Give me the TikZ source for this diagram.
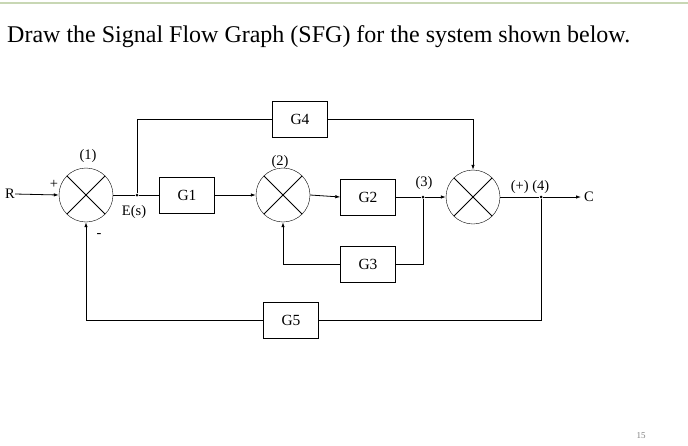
\documentclass[tikz,border=0pt]{standalone}
\usepackage{fontspec}
\setmainfont{Liberation Serif}
\usetikzlibrary{arrows.meta}
\begin{document}
\begin{tikzpicture}[x=1pt,y=-1pt,
  blk/.style={draw,minimum width=55pt,minimum height=36pt,inner sep=0pt,font=\fontsize{15.5}{15}\selectfont},
  sum/.style={draw,circle,minimum size=54pt,inner sep=0pt},
  lbl/.style={font=\fontsize{14.5}{14}\selectfont,inner sep=0pt},
  ln/.style={line width=0.8pt},
  ar/.style={ln,-{Latex[length=5pt,width=3.5pt]}},
  dot/.style={circle,fill,inner sep=0pt,minimum size=3pt}]
\useasboundingbox (0,0) rectangle (688,445);
\fill[white] (0,0) rectangle (688,445);
\draw[line width=2pt,color={rgb,255:red,200;green,215;blue,180}] (0,3) -- (688,3);
\node[anchor=west,font=\fontsize{24}{24}\selectfont,inner sep=0pt] (title) at (7,37) {Draw the Signal Flow Graph (SFG) for the system shown below.};
% nodes
\node[lbl] (R) at (10,194) {R};
\node[sum] (s1) at (86,195) {};
\node[sum] (s2) at (283,195) {};
\node[sum] (s3) at (473,197) {};
\foreach \s in {s1,s2,s3}{\draw[ln] (\s.45) -- (\s.225) (\s.135) -- (\s.315);}
\node[blk] (g1) at (187,195) {G1};
\node[blk] (g2) at (368,197) {G2};
\node[blk] (g3) at (368,264) {G3};
\node[blk] (g4) at (300,119) {G4};
\node[blk] (g5) at (291,320) {G5};
\node[lbl] (C) at (589,197) {C};
\node[dot] (e) at (137,195) {};
\node[dot] (d3) at (423,197) {};
\node[dot] (d4) at (541,197) {};
\coordinate (cend) at (581,197);
% labels
\node[lbl] (plus) at (54,184) {+};
\node[lbl] (minus) at (99,236) {-};
\node[lbl] (l1) at (88,156) {(1)};
\node[lbl] (l2) at (280,162) {(2)};
\node[lbl] (l3) at (424,183) {(3)};
\node[lbl] (l4) at (530,187) {(+) (4)};
\node[lbl] (es) at (134,212) {E(s)};
\node[font=\fontsize{9}{9}\selectfont,text=gray] (pg) at (641,436) {15};
% connectors
\draw[ar] (R.east) -- (s1.west);
\draw[ln] (s1.east) -- (e);
\draw[ln] (e) -- (g1.west);
\draw[ar] (g1.east) -- (s2.west);
\draw[ar] (s2.east) -- (g2.west);
\draw[ln] (g2.east) -- (d3);
\draw[ar] (d3) -- (s3.west);
\draw[ln] (s3.east) -- (d4);
\draw[ar] (d4) -- (cend);
\draw[ln] (e) |- (g4.west);
\draw[ar] (g4.east) -| (s3.north);
\draw[ln] (d3) |- (g3.east);
\draw[ar] (g3.west) -| (s2.south);
\draw[ln] (d4) |- (g5.east);
\draw[ar] (g5.west) -| (s1.south);
\end{tikzpicture}
\end{document}
